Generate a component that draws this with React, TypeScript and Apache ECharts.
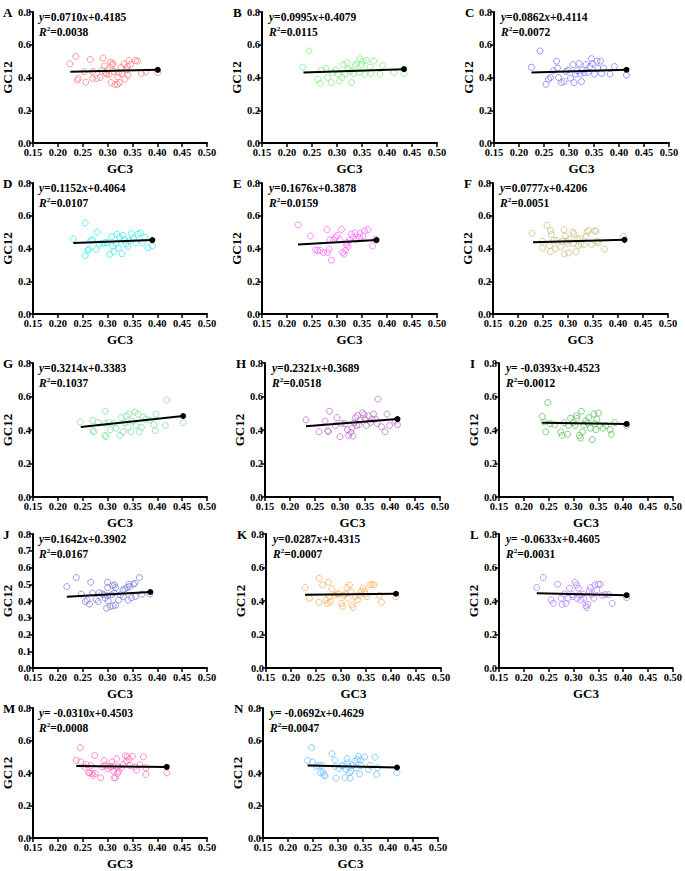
import React, { useEffect, useRef } from "react";
import * as echarts from "echarts";

// ---------- data ----------
const letters = ["A", "B", "C", "D", "E", "F", "G", "H", "I", "J", "K", "L", "M", "N"];
const slopes = [0.071, 0.0995, 0.0862, 0.1152, 0.1676, 0.0777, 0.3214, 0.2321, -0.0393, 0.1642, 0.0287, -0.0633, -0.031, -0.0692];
const intercepts = [0.4185, 0.4079, 0.4114, 0.4064, 0.3878, 0.4206, 0.3383, 0.3689, 0.4523, 0.3902, 0.4315, 0.4605, 0.4503, 0.4629];
const r2Values = ["0.0038", "0.0115", "0.0072", "0.0107", "0.0159", "0.0051", "0.1037", "0.0518", "0.0012", "0.0167", "0.0007", "0.0031", "0.0008", "0.0047"];
const lineRanges = [
  [0.225, 0.401], [0.233, 0.434], [0.225, 0.415], [0.231, 0.39], [0.222, 0.379], [0.23, 0.413], [0.246, 0.452],
  [0.232, 0.415], [0.237, 0.407], [0.218, 0.386], [0.228, 0.41], [0.226, 0.407], [0.237, 0.419], [0.239, 0.418],
];
const pointColors = ["#ff8080", "#80f080", "#8080ff", "#40e8f0", "#ff70ff", "#c8c280", "#80e0a0", "#c070d0", "#60c060", "#8080e0", "#ffb060", "#b080ff", "#ff70c0", "#70c0ff"];
const xTicks = [0.15, 0.2, 0.25, 0.3, 0.35, 0.4, 0.45, 0.5];
const yTicksMain = [0, 0.2, 0.4, 0.6, 0.8];
const yTicksJ = [0, 0.1, 0.2, 0.3, 0.4, 0.5, 0.6, 0.7, 0.8];

const pointsA = [[0.224,0.483],[0.236,0.529],[0.241,0.394],[0.239,0.383],[0.253,0.435],[0.256,0.371],[0.265,0.51],[0.27,0.437],[0.27,0.394],[0.278,0.394],[0.285,0.4],[0.288,0.442],[0.291,0.519],[0.294,0.471],[0.296,0.429],[0.298,0.421],[0.3,0.446],[0.303,0.419],[0.306,0.494],[0.309,0.479],[0.307,0.369],[0.311,0.485],[0.313,0.437],[0.315,0.358],[0.32,0.358],[0.32,0.404],[0.322,0.429],[0.324,0.369],[0.327,0.462],[0.329,0.425],[0.333,0.483],[0.335,0.39],[0.338,0.446],[0.34,0.467],[0.341,0.415],[0.343,0.504],[0.346,0.479],[0.356,0.504],[0.36,0.5],[0.368,0.425],[0.377,0.433],[0.401,0.431]];
const pointsB = [[0.232,0.463],[0.244,0.562],[0.262,0.39],[0.266,0.365],[0.269,0.446],[0.278,0.454],[0.281,0.4],[0.289,0.369],[0.291,0.431],[0.298,0.446],[0.302,0.421],[0.305,0.379],[0.31,0.4],[0.313,0.479],[0.316,0.421],[0.32,0.49],[0.322,0.452],[0.327,0.44],[0.329,0.369],[0.333,0.425],[0.336,0.473],[0.339,0.483],[0.345,0.431],[0.346,0.515],[0.349,0.479],[0.352,0.5],[0.355,0.421],[0.359,0.504],[0.366,0.463],[0.368,0.425],[0.374,0.5],[0.386,0.421],[0.391,0.473],[0.414,0.431],[0.434,0.425]];
const pointsC = [[0.225,0.463],[0.242,0.562],[0.254,0.358],[0.259,0.39],[0.263,0.4],[0.269,0.442],[0.275,0.5],[0.277,0.458],[0.279,0.4],[0.285,0.369],[0.29,0.375],[0.294,0.437],[0.298,0.446],[0.303,0.396],[0.308,0.479],[0.31,0.369],[0.313,0.421],[0.316,0.442],[0.32,0.485],[0.322,0.421],[0.325,0.375],[0.327,0.446],[0.33,0.429],[0.334,0.479],[0.338,0.431],[0.342,0.467],[0.345,0.515],[0.347,0.485],[0.351,0.421],[0.356,0.5],[0.358,0.456],[0.363,0.5],[0.365,0.425],[0.369,0.458],[0.382,0.421],[0.391,0.467],[0.415,0.415]];
const pointsD = [[0.231,0.458],[0.255,0.556],[0.255,0.356],[0.26,0.388],[0.262,0.396],[0.266,0.448],[0.27,0.452],[0.277,0.394],[0.279,0.5],[0.283,0.428],[0.29,0.432],[0.295,0.436],[0.299,0.436],[0.304,0.364],[0.308,0.472],[0.31,0.416],[0.313,0.38],[0.317,0.428],[0.319,0.488],[0.322,0.404],[0.324,0.468],[0.329,0.368],[0.331,0.48],[0.334,0.452],[0.337,0.428],[0.341,0.412],[0.344,0.448],[0.348,0.492],[0.352,0.46],[0.357,0.436],[0.361,0.488],[0.366,0.496],[0.37,0.436],[0.375,0.468],[0.381,0.404],[0.39,0.416]];
const pointsE = [[0.222,0.544],[0.247,0.476],[0.257,0.392],[0.261,0.388],[0.266,0.388],[0.273,0.376],[0.28,0.516],[0.281,0.376],[0.284,0.396],[0.286,0.452],[0.289,0.328],[0.293,0.452],[0.297,0.468],[0.3,0.48],[0.306,0.452],[0.309,0.516],[0.311,0.376],[0.314,0.368],[0.317,0.388],[0.319,0.422],[0.32,0.436],[0.322,0.412],[0.326,0.452],[0.329,0.488],[0.332,0.468],[0.336,0.496],[0.339,0.456],[0.345,0.468],[0.346,0.492],[0.352,0.476],[0.355,0.508],[0.362,0.516],[0.371,0.416],[0.377,0.456]];
const pointsF = [[0.228,0.493],[0.249,0.444],[0.249,0.403],[0.258,0.542],[0.263,0.418],[0.265,0.509],[0.265,0.381],[0.267,0.485],[0.272,0.45],[0.275,0.399],[0.278,0.45],[0.285,0.409],[0.289,0.444],[0.292,0.515],[0.293,0.367],[0.295,0.475],[0.297,0.444],[0.299,0.43],[0.301,0.373],[0.302,0.456],[0.309,0.499],[0.311,0.43],[0.312,0.491],[0.316,0.379],[0.319,0.456],[0.321,0.418],[0.324,0.462],[0.326,0.43],[0.332,0.424],[0.336,0.475],[0.338,0.501],[0.341,0.511],[0.347,0.424],[0.353,0.507],[0.356,0.507],[0.358,0.444],[0.361,0.434],[0.373,0.397],[0.411,0.475]];
const pointsG = [[0.245,0.448],[0.27,0.457],[0.27,0.396],[0.273,0.389],[0.281,0.444],[0.295,0.512],[0.297,0.36],[0.295,0.368],[0.295,0.44],[0.303,0.444],[0.305,0.402],[0.313,0.44],[0.317,0.411],[0.325,0.368],[0.327,0.474],[0.331,0.389],[0.335,0.444],[0.338,0.484],[0.341,0.417],[0.343,0.495],[0.347,0.389],[0.35,0.453],[0.355,0.507],[0.357,0.427],[0.361,0.495],[0.364,0.389],[0.368,0.417],[0.372,0.478],[0.377,0.465],[0.385,0.459],[0.393,0.432],[0.396,0.396],[0.397,0.495],[0.416,0.427],[0.419,0.579],[0.452,0.444]];
const pointsH = [[0.232,0.461],[0.258,0.389],[0.27,0.453],[0.275,0.396],[0.279,0.512],[0.277,0.39],[0.291,0.427],[0.294,0.474],[0.3,0.36],[0.303,0.44],[0.31,0.438],[0.315,0.402],[0.317,0.368],[0.322,0.385],[0.324,0.411],[0.326,0.364],[0.329,0.444],[0.331,0.474],[0.333,0.427],[0.335,0.486],[0.338,0.432],[0.341,0.459],[0.345,0.503],[0.348,0.491],[0.35,0.465],[0.353,0.427],[0.357,0.484],[0.361,0.444],[0.364,0.465],[0.367,0.495],[0.371,0.465],[0.374,0.44],[0.376,0.585],[0.383,0.419],[0.39,0.389],[0.394,0.495],[0.399,0.427],[0.41,0.453],[0.415,0.432]];
const pointsI = [[0.237,0.48],[0.241,0.448],[0.244,0.389],[0.248,0.564],[0.253,0.438],[0.262,0.432],[0.274,0.389],[0.277,0.368],[0.281,0.444],[0.288,0.375],[0.29,0.427],[0.294,0.47],[0.299,0.444],[0.303,0.427],[0.306,0.486],[0.307,0.47],[0.312,0.368],[0.314,0.352],[0.316,0.512],[0.318,0.389],[0.321,0.432],[0.325,0.453],[0.329,0.44],[0.331,0.474],[0.334,0.411],[0.338,0.343],[0.341,0.495],[0.343,0.438],[0.345,0.402],[0.347,0.465],[0.35,0.501],[0.353,0.427],[0.359,0.411],[0.365,0.427],[0.374,0.402],[0.376,0.375],[0.383,0.444],[0.407,0.427]];
const pointsJ = [[0.218,0.486],[0.237,0.54],[0.247,0.441],[0.255,0.397],[0.259,0.405],[0.264,0.381],[0.266,0.512],[0.27,0.447],[0.277,0.409],[0.281,0.397],[0.283,0.449],[0.289,0.443],[0.293,0.437],[0.295,0.417],[0.298,0.357],[0.3,0.512],[0.3,0.48],[0.3,0.431],[0.301,0.401],[0.305,0.367],[0.308,0.437],[0.31,0.492],[0.311,0.371],[0.313,0.447],[0.314,0.496],[0.316,0.48],[0.316,0.375],[0.322,0.405],[0.326,0.437],[0.331,0.467],[0.332,0.427],[0.335,0.472],[0.339,0.48],[0.341,0.405],[0.343,0.5],[0.344,0.486],[0.348,0.419],[0.352,0.5],[0.355,0.506],[0.356,0.427],[0.364,0.54],[0.369,0.441],[0.385,0.441]];
const pointsK = [[0.228,0.48],[0.237,0.416],[0.256,0.536],[0.256,0.392],[0.263,0.496],[0.27,0.406],[0.275,0.512],[0.277,0.426],[0.273,0.386],[0.279,0.396],[0.282,0.472],[0.287,0.434],[0.293,0.442],[0.296,0.442],[0.301,0.386],[0.303,0.368],[0.305,0.434],[0.309,0.442],[0.312,0.48],[0.314,0.416],[0.317,0.496],[0.32,0.454],[0.322,0.376],[0.324,0.36],[0.329,0.426],[0.333,0.406],[0.337,0.434],[0.34,0.454],[0.344,0.476],[0.347,0.46],[0.349,0.442],[0.352,0.426],[0.358,0.496],[0.362,0.5],[0.366,0.496],[0.377,0.434],[0.381,0.392],[0.41,0.426]];
const pointsL = [[0.226,0.48],[0.239,0.54],[0.255,0.406],[0.259,0.386],[0.268,0.5],[0.275,0.416],[0.277,0.38],[0.282,0.442],[0.285,0.386],[0.289,0.416],[0.292,0.476],[0.297,0.438],[0.299,0.426],[0.303,0.512],[0.306,0.496],[0.307,0.416],[0.31,0.476],[0.312,0.438],[0.315,0.406],[0.319,0.442],[0.321,0.416],[0.325,0.372],[0.327,0.36],[0.329,0.38],[0.332,0.46],[0.334,0.48],[0.336,0.438],[0.341,0.416],[0.343,0.496],[0.347,0.466],[0.35,0.5],[0.354,0.5],[0.358,0.434],[0.364,0.438],[0.371,0.438],[0.378,0.386],[0.407,0.42]];
const pointsM = [[0.237,0.477],[0.245,0.556],[0.246,0.468],[0.254,0.436],[0.257,0.452],[0.262,0.401],[0.264,0.401],[0.266,0.446],[0.269,0.397],[0.271,0.385],[0.274,0.507],[0.275,0.397],[0.286,0.371],[0.289,0.438],[0.293,0.477],[0.294,0.446],[0.3,0.426],[0.301,0.442],[0.306,0.438],[0.309,0.468],[0.311,0.442],[0.312,0.411],[0.313,0.371],[0.316,0.371],[0.318,0.487],[0.32,0.397],[0.321,0.438],[0.322,0.411],[0.328,0.432],[0.331,0.452],[0.336,0.507],[0.338,0.473],[0.34,0.499],[0.343,0.483],[0.345,0.446],[0.35,0.503],[0.354,0.438],[0.358,0.418],[0.365,0.452],[0.372,0.499],[0.377,0.432],[0.377,0.391],[0.419,0.401]];
const pointsN = [[0.239,0.477],[0.247,0.556],[0.249,0.468],[0.257,0.44],[0.262,0.446],[0.265,0.401],[0.268,0.446],[0.27,0.405],[0.274,0.381],[0.272,0.39],[0.288,0.519],[0.294,0.479],[0.294,0.44],[0.296,0.369],[0.302,0.428],[0.307,0.444],[0.31,0.446],[0.314,0.371],[0.316,0.422],[0.318,0.487],[0.319,0.463],[0.321,0.44],[0.323,0.401],[0.324,0.369],[0.326,0.411],[0.33,0.446],[0.334,0.473],[0.336,0.432],[0.339,0.483],[0.341,0.503],[0.343,0.395],[0.345,0.479],[0.346,0.446],[0.353,0.499],[0.361,0.422],[0.364,0.446],[0.374,0.497],[0.377,0.391],[0.379,0.432],[0.418,0.401]];

const allPoints = [pointsA, pointsB, pointsC, pointsD, pointsE, pointsF, pointsG, pointsH, pointsI, pointsJ, pointsK, pointsL, pointsM, pointsN];

// ---------- layout (pixels) ----------
const gridLefts = [32, 262, 494, 32, 262, 493, 32, 265, 499, 32, 266, 499, 32, 263];
const gridTops = [12, 12, 12, 183, 183, 183, 363, 363, 363, 534, 534, 534, 708, 708];
const gridHeights = [131, 131, 131, 131, 131, 131, 134, 134, 134, 134, 134, 134, 131, 131];
const gridWidth = 175;

const FONT = '"Liberation Serif", "Times New Roman", serif';

function buildOption() {
  const grid: any[] = [];
  const xAxis: any[] = [];
  const yAxis: any[] = [];
  const series: any[] = [];
  const graphic: any[] = [];

  letters.forEach((letter, i) => {
    const left = gridLefts[i];
    const top = gridTops[i];
    const h = gridHeights[i];
    grid.push({ left, top, width: gridWidth, height: h, containLabel: false });
    xAxis.push({
      type: "value",
      gridIndex: i,
      min: xTicks[0],
      max: xTicks[xTicks.length - 1],
      interval: 0.05,
      name: "GC3",
      nameLocation: "middle",
      nameGap: 19,
      nameTextStyle: { fontFamily: FONT, fontWeight: "bold", fontSize: 13, color: "#000" },
      axisLine: { onZero: false, lineStyle: { color: "#000", width: 2 } },
      axisTick: { show: true, length: 4, lineStyle: { color: "#000", width: 1.5 } },
      axisLabel: {
        margin: 4,
        fontFamily: FONT,
        fontWeight: "bold",
        fontSize: 10.5,
        color: "#000",
        formatter: (v: number) => v.toFixed(2),
      },
      splitLine: { show: false },
    });
    const isJ = letter === "J";
    const yt = isJ ? yTicksJ : yTicksMain;
    yAxis.push({
      type: "value",
      gridIndex: i,
      min: yt[0],
      max: yt[yt.length - 1],
      interval: isJ ? 0.1 : 0.2,
      name: "GC12",
      nameLocation: "middle",
      nameGap: 15,
      nameRotate: 90,
      nameTextStyle: { fontFamily: FONT, fontWeight: "bold", fontSize: 13, color: "#000" },
      axisLine: { onZero: false, lineStyle: { color: "#000", width: 2 } },
      axisTick: { show: true, length: 4, lineStyle: { color: "#000", width: 1.5 } },
      axisLabel: {
        margin: 2,
        fontFamily: FONT,
        fontWeight: "bold",
        fontSize: 10.5,
        color: "#000",
        formatter: (v: number) => v.toFixed(1),
      },
      splitLine: { show: false },
    });
    series.push({
      type: "scatter",
      xAxisIndex: i,
      yAxisIndex: i,
      symbol: "circle",
      symbolSize: 6,
      itemStyle: { color: "rgba(0,0,0,0)", borderColor: pointColors[i], borderWidth: 1 },
      data: allPoints[i],
      z: 2,
    });
    const [x1, x2] = lineRanges[i];
    const y1 = slopes[i] * x1 + intercepts[i];
    const y2 = slopes[i] * x2 + intercepts[i];
    series.push({
      type: "line",
      xAxisIndex: i,
      yAxisIndex: i,
      lineStyle: { color: "#000", width: 2 },
      itemStyle: { color: "#000" },
      showSymbol: true,
      data: [
        { value: [x1, y1], symbol: "none" },
        { value: [x2, y2], symbol: "circle", symbolSize: 6 },
      ],
      z: 3,
    });

    // panel letter
    graphic.push({
      type: "text",
      x: left - 29,
      y: top - 6,
      style: { text: letter, font: `bold 13px ${FONT}`, fill: "#000", verticalAlign: "top" },
    });
    const s = slopes[i];
    const slopeStr = s >= 0 ? s.toFixed(4) : " -" + Math.abs(s).toFixed(4);
    graphic.push({
      type: "text",
      x: left + 7,
      y: top + 5,
      style: {
        text: `{i|y}{b|=${slopeStr}}{i|x}{b|+${intercepts[i].toFixed(4)}}`,
        verticalAlign: "middle",
        rich: {
          i: { font: `italic bold 11.5px ${FONT}`, fill: "#000" },
          b: { font: `bold 11.5px ${FONT}`, fill: "#000" },
        },
      },
    });
    graphic.push({
      type: "text",
      x: left + 7,
      y: top + 20,
      style: {
        text: `{i|R}{sup|2}{b|=${r2Values[i]}}`,
        verticalAlign: "middle",
        rich: {
          i: { font: `italic bold 11.5px ${FONT}`, fill: "#000" },
          sup: { font: `bold 7px ${FONT}`, fill: "#000", verticalAlign: "top", padding: [0, 0, 6, 0] },
          b: { font: `bold 11.5px ${FONT}`, fill: "#000" },
        },
      },
    });
  });

  return { animation: false, backgroundColor: "#fff", grid, xAxis, yAxis, series, graphic };
}

export default function App() {
  const ref = useRef<HTMLDivElement>(null);
  useEffect(() => {
    if (!ref.current) return;
    const chart = echarts.init(ref.current, undefined, { renderer: "svg" });
    chart.setOption(buildOption() as any);
    return () => chart.dispose();
  }, []);
  return (
    <div
      ref={ref}
      style={{ position: "absolute", left: 0, top: 0, width: 685, height: 871, background: "#fff" }}
    />
  );
}
